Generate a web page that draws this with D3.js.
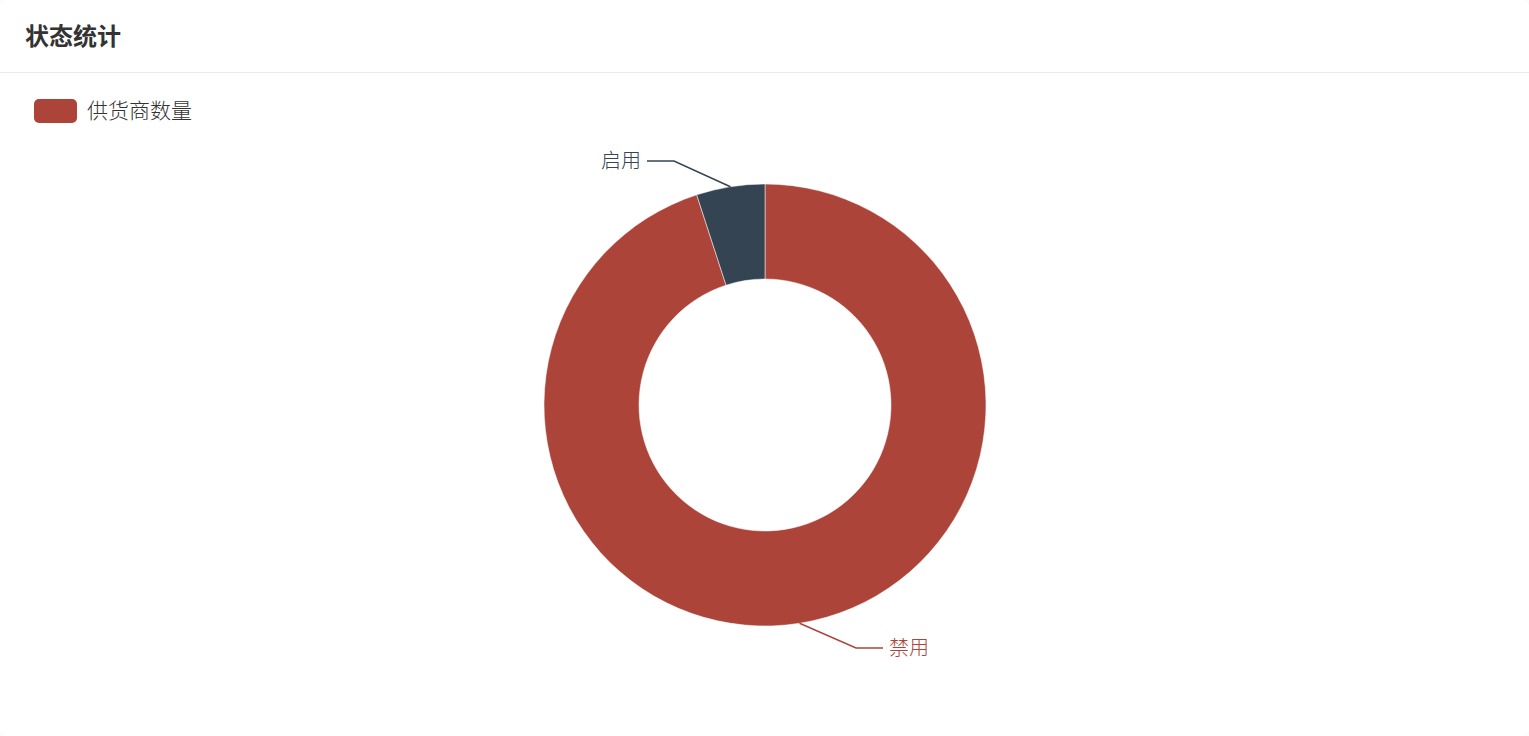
<!DOCTYPE html>
<meta charset='utf-8'>
<head>
  <title>状态统计</title>
  <style>
    html, body { margin: 0; padding: 0; background: #fff; }
    body { width: 1529px; height: 736px; overflow: hidden; font-family: 'Noto Sans CJK SC', 'Microsoft YaHei', sans-serif; }
    .card { position: absolute; left: 0; top: 0; width: 1529px; height: 736px; border-radius: 6px; box-shadow: 0 0 4px rgba(0,0,0,0.06); }
    .head { height: 73px; border-bottom: 1px solid #ebebeb; box-sizing: border-box; }
    .head h3 { margin: 0; padding: 19px 0 0 25px; font-size: 24px; font-weight: bold; color: #333; line-height: 32px; }
  </style>
</head>
<body>
  <div class='card'>
    <div class='head'><h3>状态统计</h3></div>
    <div id='chart'></div>
  </div>
</body>
<script src='https://d3js.org/d3.v7.min.js'></script>
<script>

var seriesName = '供货商数量';
var categories = ['禁用', '启用'];
var values = [19, 1];
var colors = ['#ac443a', '#344453'];

var width = 1529,
    height = 662,
    cx = 765,
    cy = 406 - 74,
    outerR = 221,
    innerR = 126;

var svg = d3.select('#chart').append('svg')
    .attr('width', width)
    .attr('height', height)
    .style('display', 'block');

// legend
var legend = svg.append('g').attr('transform', 'translate(34,26)');
legend.append('rect')
    .attr('width', 43).attr('height', 24)
    .attr('rx', 5).attr('ry', 5)
    .attr('fill', colors[0]);
legend.append('text')
    .attr('x', 53).attr('y', 19)
    .attr('font-size', 21)
    .attr('font-weight', 300)
    .attr('fill', '#333')
    .text(seriesName);

var data = categories.map(function(c, i) { return { name: c, value: values[i] }; });

var pie = d3.pie().sort(null).value(function(d) { return d.value; });
var arc = d3.arc().innerRadius(innerR).outerRadius(outerR);

var g = svg.append('g').attr('transform', 'translate(' + cx + ',' + cy + ')');

var arcs = pie(data);

g.selectAll('path.slice')
    .data(arcs)
  .enter().append('path')
    .attr('class', 'slice')
    .attr('d', arc)
    .attr('fill', function(d, i) { return colors[i]; })
    .attr('stroke', '#fff')
    .attr('stroke-width', 0.5);

// label lines
arcs.forEach(function(d, i) {
  var mid = (d.startAngle + d.endAngle) / 2,
      sx = Math.sin(mid), sy = -Math.cos(mid),
      x0 = sx * outerR, y0 = sy * outerR,
      side = sx < 0 ? -1 : 1,
      ey = sy < 0 ? -244 : 243,
      ex = side * 91,
      hx = ex + side * 27;
  g.append('polyline')
      .attr('points', [[x0, y0], [ex, ey], [hx, ey]].map(function(p) { return p.join(','); }).join(' '))
      .attr('fill', 'none')
      .attr('stroke', colors[i])
      .attr('stroke-width', 1.5);
  g.append('text')
      .attr('x', hx + side * 6)
      .attr('y', ey + 7)
      .attr('font-size', 20)
      .attr('font-weight', 300)
      .attr('text-anchor', side < 0 ? 'end' : 'start')
      .attr('fill', colors[i])
      .text(d.data.name);
});

</script>
